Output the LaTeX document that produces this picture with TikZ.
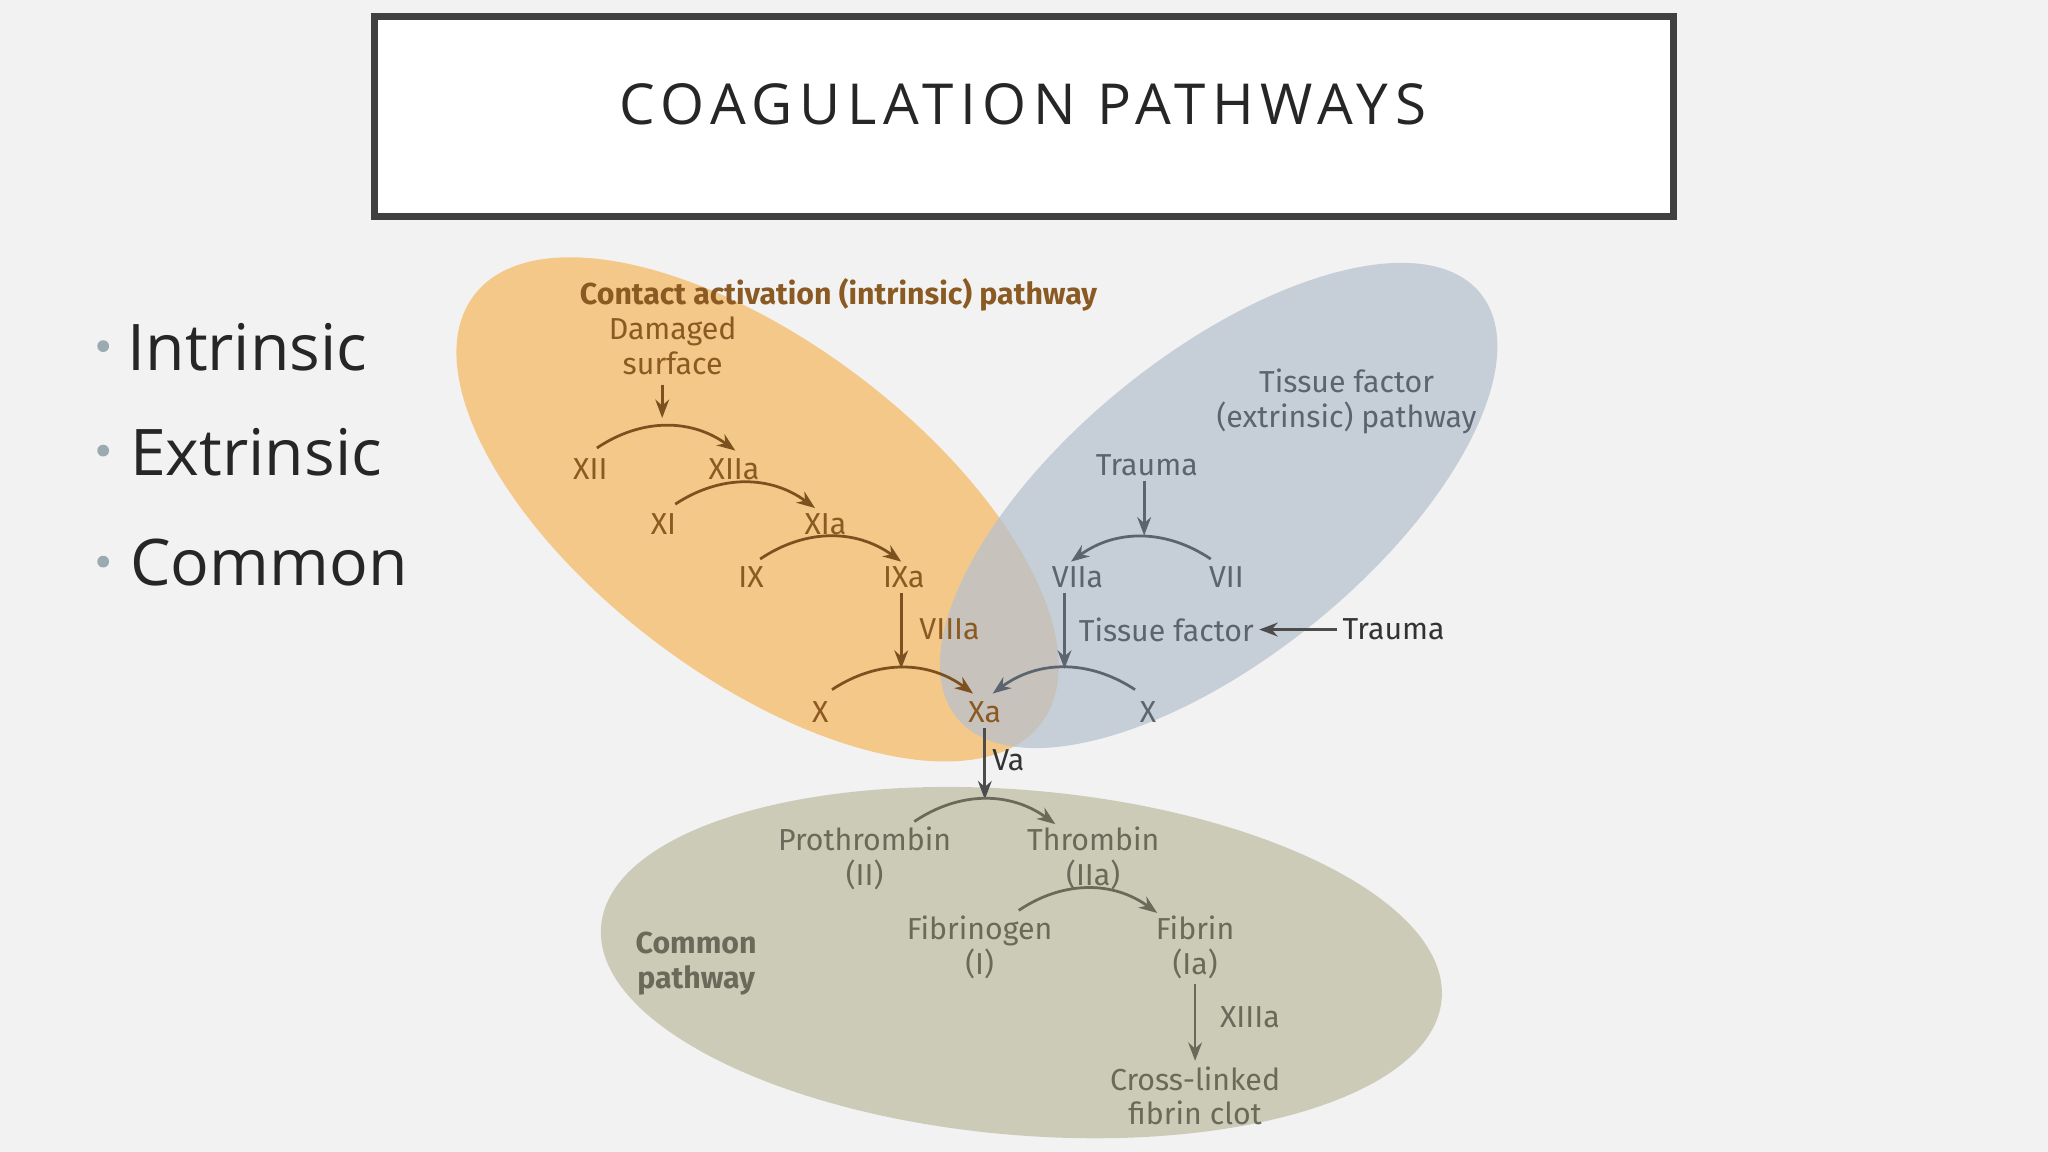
\documentclass[tikz,border=0pt]{standalone}
\usepackage{fontspec}
\setmainfont{Open Sans}
\newfontfamily\diag{Fira Sans}
\usetikzlibrary{arrows.meta}
\definecolor{bg}{HTML}{F2F2F2}
\definecolor{orfill}{HTML}{F5BE6E}
\definecolor{blfill}{HTML}{B8C2CE}
\definecolor{cmfill}{HTML}{C6C5AE}
\definecolor{ortext}{HTML}{8A5A22}
\definecolor{bltext}{HTML}{5C6470}
\definecolor{cmtext}{HTML}{6A6A5A}
\definecolor{bullet}{HTML}{9AAAB0}
\tikzset{
  lab/.style={font=\diag\fontsize{6.6}{7.6}\selectfont, inner sep=1pt, align=center},
  arr/.style={-{Stealth[length=4pt,width=3pt]}, line width=0.6pt},
  bul/.style={font=\fontsize{14}{17}\selectfont, text=black!85, anchor=west, inner sep=0pt}
}
\begin{document}
\begin{tikzpicture}[x=0.01cm,y=-0.01cm]
\fill[bg] (0,0) rectangle (1568,882);
\useasboundingbox (0,0) rectangle (1568,882);
% title
\node[draw=black!75, line width=1.5pt, fill=white, minimum width=9.94cm, minimum height=1.53cm] (titlebox) at (784,89.5) {};
\node[font=\fontsize{12.3}{15}\selectfont\addfontfeatures{LetterSpace=12}, text=black!85] (title) at (783,80) {COAGULATION PATHWAYS};
% bullets
\fill[bullet] (79,265) circle (4.5);
\fill[bullet] (79,345) circle (4.5);
\fill[bullet] (79,430) circle (4.5);
\node[bul] (b1) at (97,266) {Intrinsic};
\node[bul] (b2) at (99,346) {Extrinsic};
\node[bul] (b3) at (99,431) {Common};
% ellipses
\fill[cmfill, opacity=0.85] (782,737) ellipse [x radius=323, y radius=132, rotate=-5];
\fill[orfill, opacity=0.8] (580,390) ellipse [x radius=272, y radius=128, rotate=-37];
\fill[blfill, opacity=0.75] (933,387) ellipse [x radius=258, y radius=116, rotate=39];
% intrinsic
\begin{scope}[every node/.style={lab,text=ortext}, draw=ortext!90!black]
\node[font=\diag\bfseries\fontsize{6.6}{7.6}\selectfont] (cap) at (642,226) {Contact activation (intrinsic) pathway};
\node (ds) at (515,265) {Damaged\\surface};
\node (xii) at (452,359) {XII};
\node (xiia) at (562,359) {XIIa};
\node (xi) at (508,401) {XI};
\node (xia) at (632,401) {XIa};
\node (ix) at (575,442) {IX};
\node (ixa) at (692,442) {IXa};
\node (viiia) at (727,482) {VIIIa};
\node (x1) at (628,545) {X};
\node (xa) at (754,545) {Xa};
\coordinate (a1) at (457,343); \coordinate (a2) at (563,345);
\coordinate (b1s) at (517,386); \coordinate (b2s) at (624,389);
\coordinate (c1) at (582,428); \coordinate (c2) at (690,430);
\coordinate (d1) at (637,528); \coordinate (d2) at (745,531);
\draw[arr] (ds.south -| 507,0) ++(0,3) -- (507,320);
\draw[arr] (a1) to[bend left=35] (a2);
\draw[arr] (b1s) to[bend left=35] (b2s);
\draw[arr] (c1) to[bend left=35] (c2);
\draw[arr] (d1) to[bend left=35] (d2);
\draw[arr] (ixa.south -| 690,0) -- (690,512);
\end{scope}
% extrinsic
\begin{scope}[every node/.style={lab,text=bltext}, draw=bltext]
\node (tfp) at (1031,307) {Tissue factor\\(extrinsic) pathway};
\node (tr1) at (878,356) {Trauma};
\node (viia) at (825,442) {VIIa};
\node (vii) at (939,442) {VII};
\node (tf) at (893,482) {Tissue factor};
\node (x2) at (879,545) {X};
\coordinate (e1) at (927,428); \coordinate (e2) at (820,430);
\coordinate (f1) at (869,528); \coordinate (f2) at (760,531);
\draw[arr] (tr1.south -| 876,0) -- (876,410);
\draw[arr] (e1) to[bend right=35] (e2);
\draw[arr] (viia.south -| 815,0) -- (815,512);
\draw[arr] (f1) to[bend right=35] (f2);
\end{scope}
\node[lab, text=black!80] (tr2) at (1067,482) {Trauma};
\draw[arr, black!70] (tr2.west) -- (tf.east);
% Va
\node[lab, text=black!80] (va) at (772,582) {Va};
\draw[arr, black!70] (xa.south -| 754,0) -- (754,612);
% common
\begin{scope}[every node/.style={lab,text=cmtext}, draw=cmtext]
\node[font=\diag\bfseries\fontsize{6.6}{7.6}\selectfont] (cp) at (533,738) {Common\\pathway};
\node (pro) at (662,657) {Prothrombin\\(II)};
\node (thr) at (837,657) {Thrombin\\(IIa)};
\node (fbg) at (750,725) {Fibrinogen\\(I)};
\node (fbn) at (915,725) {Fibrin\\(Ia)};
\node (xiiia) at (957,779) {XIIIa};
\node (clot) at (915,839) {Cross-linked\\fibrin clot};
\coordinate (g1) at (700,629); \coordinate (g2) at (808,631);
\coordinate (h1) at (780,697); \coordinate (h2) at (886,699);
\draw[arr] (g1) to[bend left=35] (g2);
\draw[arr] (h1) to[bend left=35] (h2);
\draw[arr] (fbn.south) -- (clot.north);
\end{scope}
\end{tikzpicture}
\end{document}
